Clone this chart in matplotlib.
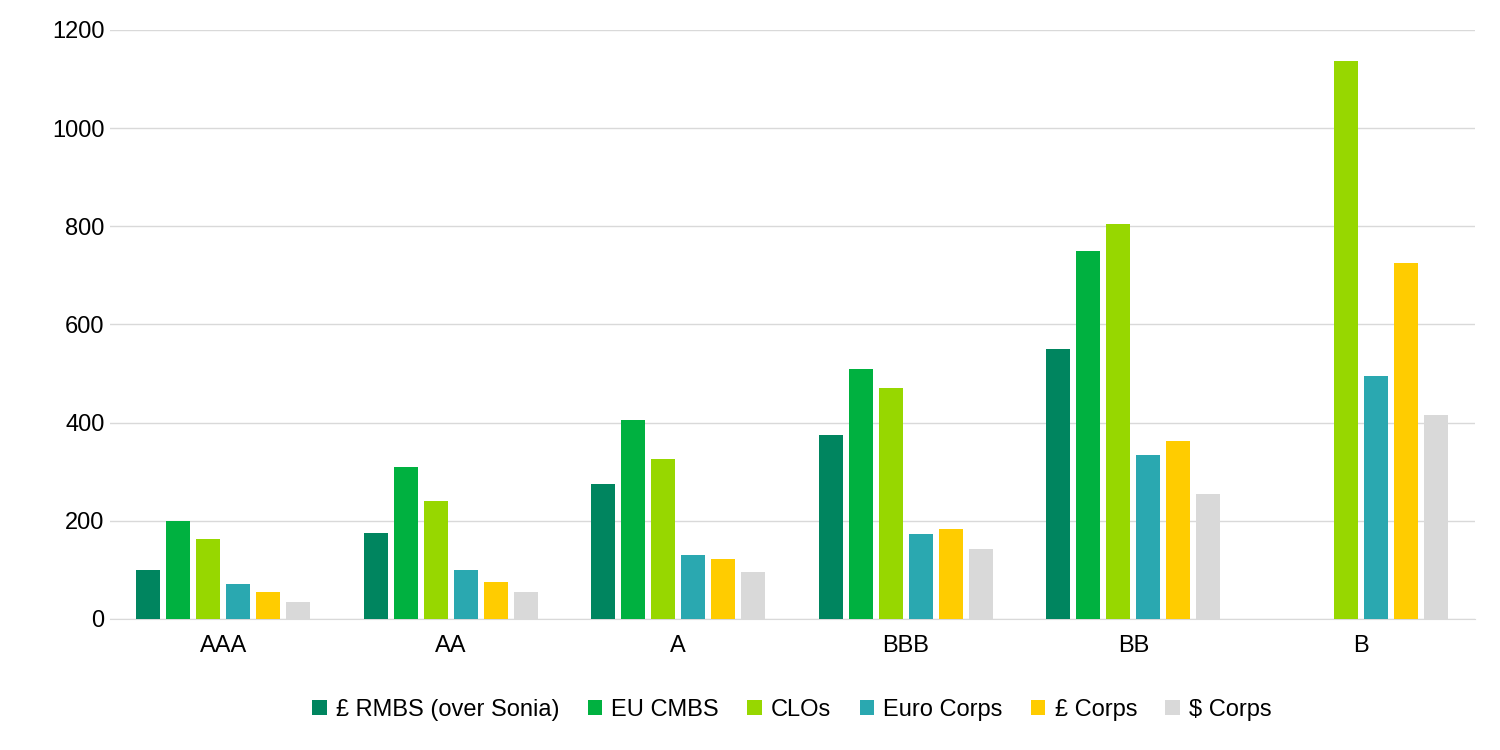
import matplotlib.pyplot as plt
import numpy as np

categories = ['AAA', 'AA', 'A', 'BBB', 'BB', 'B']
series_names = ['£ RMBS (over Sonia)', 'EU CMBS', 'CLOs', 'Euro Corps', '£ Corps', '$ Corps']
rmbs = [100, 175, 275, 375, 550, np.nan]
cmbs = [200, 310, 405, 510, 750, np.nan]
clos = [163, 240, 325, 470, 805, 1137]
euro_corps = [70, 100, 130, 173, 333, 495]
gbp_corps = [55, 75, 122, 183, 362, 725]
usd_corps = [35, 55, 95, 143, 255, 415]
colors = ['#00855F', '#00B140', '#97D700', '#2AA8B0', '#FFCC00', '#D9D9D9']

plt.rcParams['font.family'] = ['Liberation Sans', 'DejaVu Sans']
fig, ax = plt.subplots(figsize=(15, 7.5), dpi=100)
fig.subplots_adjust(left=0.073, right=0.983, top=0.96, bottom=0.175)

x = np.arange(len(categories))
step = 0.132
width = 0.107
all_series = [rmbs, cmbs, clos, euro_corps, gbp_corps, usd_corps]
for i, (vals, name, c) in enumerate(zip(all_series, series_names, colors)):
    ax.bar(x + (i - 2.5) * step, vals, width, color=c, label=name, zorder=3)

ax.set_xlim(-0.5, len(categories) - 0.5)
ax.set_ylim(0, 1200)
ax.set_yticks(range(0, 1201, 200))
ax.set_xticks(x)
ax.set_xticklabels(categories)
ax.tick_params(axis='both', labelsize=17, length=0, colors='#000000')
ax.tick_params(axis='x', pad=12)
ax.grid(axis='y', color='#D9D9D9', linewidth=1, zorder=0)
for s in ['top', 'right', 'left']:
    ax.spines[s].set_visible(False)
ax.spines['bottom'].set_color('#D9D9D9')

ax.legend(loc='upper center', bbox_to_anchor=(0.5, -0.1), ncol=6, frameon=False,
          fontsize=17, handlelength=0.6, handleheight=0.6, handletextpad=0.4,
          columnspacing=1.2)

plt.savefig('out.png')
